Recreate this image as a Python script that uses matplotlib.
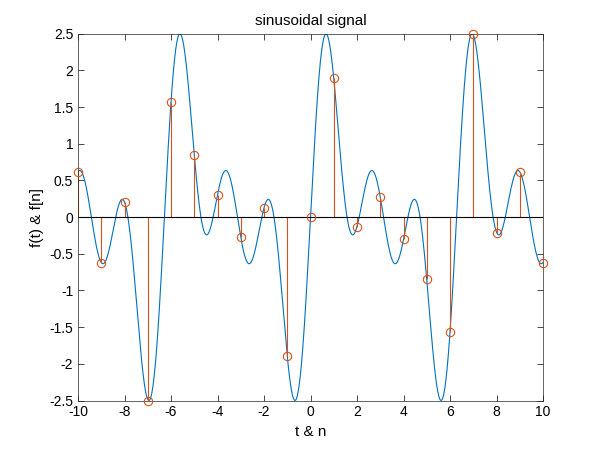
import numpy as np
import matplotlib.pyplot as plt

plt.rcParams['font.family'] = ['Liberation Sans', 'DejaVu Sans']
plt.rcParams['axes.unicode_minus'] = False

# signal components: f(t) = sum amp * sin(freq * t)
freqs = [1, 2, 3]
amps = [1, 1, 1]

n = np.arange(-10, 11)
fn = [0.62, -0.62, 0.21, -2.50, 1.57, 0.85, 0.30, -0.27, 0.13, -1.89, 0.00,
      1.89, -0.13, 0.27, -0.30, -0.85, -1.57, 2.50, -0.21, 0.62, -0.62]

t = np.linspace(-10, 10, 2001)
ft = sum(a * np.sin(w * t) for a, w in zip(amps, freqs))

fig = plt.figure(figsize=(6, 4.5), dpi=100)
ax = fig.add_axes([0.13, 0.11, 0.775, 0.815])

ax.plot(t, ft, color='#0072BD', lw=0.8)
ax.vlines(n, 0, fn, color='#D95319', lw=0.8)
ax.plot(n, fn, 'o', mfc='none', mec='#D95319', ms=6, mew=0.8, clip_on=False, zorder=5)
ax.axhline(0, color='black', lw=0.8)

ax.set_xlim(-10, 10)
ax.set_ylim(-2.5, 2.5)
ax.set_xticks(range(-10, 11, 2))
yt = np.arange(-2.5, 2.51, 0.5)
ax.set_yticks(yt)
ax.set_yticklabels([f'{v:g}' for v in yt])
ax.tick_params(direction='in', top=True, right=True, labelsize=10, length=4, width=0.5)
for s in ax.spines.values():
    s.set_linewidth(0.5)
    s.set_color('#262626')

ax.set_title('sinusoidal signal', fontsize=11, fontweight='normal')
ax.set_xlabel('t & n', fontsize=11)
ax.set_ylabel('f(t) & f[n]', fontsize=11)

fig.savefig('out.png')
